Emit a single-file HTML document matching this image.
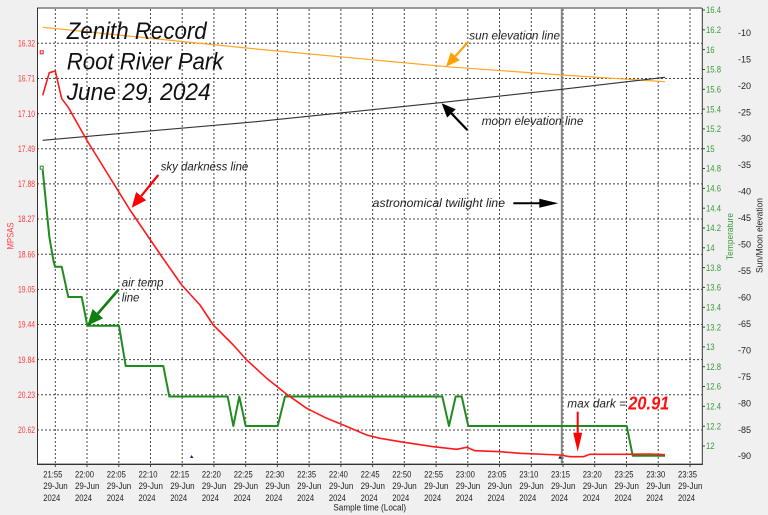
<!DOCTYPE html>
<html><head><meta charset="utf-8"><style>
html,body{margin:0;padding:0;background:#f0f0f0;}
svg{display:block;}
text{font-family:"Liberation Sans",sans-serif;}
</style></head><body>
<svg width="768" height="515" viewBox="0 0 768 515" xmlns="http://www.w3.org/2000/svg">
<rect x="0" y="0" width="768" height="515" fill="#f0f0f0"/>
<rect x="37" y="8" width="665" height="456" fill="#ffffff"/>
<g stroke="#444" stroke-width="1" stroke-dasharray="2,2" fill="none">
<line x1="37" y1="43.3" x2="702" y2="43.3"/>
<line x1="37" y1="78.45" x2="702" y2="78.45"/>
<line x1="37" y1="113.6" x2="702" y2="113.6"/>
<line x1="37" y1="148.75" x2="702" y2="148.75"/>
<line x1="37" y1="183.9" x2="702" y2="183.9"/>
<line x1="37" y1="219.05" x2="702" y2="219.05"/>
<line x1="37" y1="254.2" x2="702" y2="254.2"/>
<line x1="37" y1="289.35" x2="702" y2="289.35"/>
<line x1="37" y1="324.5" x2="702" y2="324.5"/>
<line x1="37" y1="359.65" x2="702" y2="359.65"/>
<line x1="37" y1="394.8" x2="702" y2="394.8"/>
<line x1="37" y1="429.95" x2="702" y2="429.95"/>
<line x1="55.3" y1="9" x2="55.3" y2="467"/>
<line x1="87.0" y1="9" x2="87.0" y2="467"/>
<line x1="118.8" y1="9" x2="118.8" y2="467"/>
<line x1="150.5" y1="9" x2="150.5" y2="467"/>
<line x1="182.2" y1="9" x2="182.2" y2="467"/>
<line x1="213.9" y1="9" x2="213.9" y2="467"/>
<line x1="245.7" y1="9" x2="245.7" y2="467"/>
<line x1="277.4" y1="9" x2="277.4" y2="467"/>
<line x1="309.1" y1="9" x2="309.1" y2="467"/>
<line x1="340.9" y1="9" x2="340.9" y2="467"/>
<line x1="372.6" y1="9" x2="372.6" y2="467"/>
<line x1="404.3" y1="9" x2="404.3" y2="467"/>
<line x1="436.1" y1="9" x2="436.1" y2="467"/>
<line x1="467.8" y1="9" x2="467.8" y2="467"/>
<line x1="499.5" y1="9" x2="499.5" y2="467"/>
<line x1="531.3" y1="9" x2="531.3" y2="467"/>
<line x1="563.0" y1="9" x2="563.0" y2="467"/>
<line x1="594.7" y1="9" x2="594.7" y2="467"/>
<line x1="626.5" y1="9" x2="626.5" y2="467"/>
<line x1="658.2" y1="9" x2="658.2" y2="467"/>
<line x1="690.0" y1="9" x2="690.0" y2="467"/>
</g>
<!-- frame -->
<line x1="37" y1="8" x2="702" y2="8" stroke="#999" stroke-width="2"/>
<line x1="37.5" y1="8" x2="37.5" y2="464.5" stroke="#333" stroke-width="1"/>
<line x1="702.3" y1="8" x2="702.3" y2="464.5" stroke="#333" stroke-width="1"/>
<line x1="37" y1="464.3" x2="702.8" y2="464.3" stroke="#333" stroke-width="1.3"/>
<!-- twilight line -->
<line x1="561.8" y1="8" x2="561.8" y2="464" stroke="#888" stroke-width="2"/>
<!-- temp ticks -->
<g stroke="#444" stroke-width="1">
<line x1="702" y1="10" x2="705" y2="10"/><line x1="702" y1="29.8" x2="705" y2="29.8"/><line x1="702" y1="49.6" x2="705" y2="49.6"/><line x1="702" y1="69.5" x2="705" y2="69.5"/><line x1="702" y1="89.3" x2="705" y2="89.3"/><line x1="702" y1="109.1" x2="705" y2="109.1"/><line x1="702" y1="128.9" x2="705" y2="128.9"/><line x1="702" y1="148.7" x2="705" y2="148.7"/><line x1="702" y1="168.5" x2="705" y2="168.5"/><line x1="702" y1="188.4" x2="705" y2="188.4"/><line x1="702" y1="208.2" x2="705" y2="208.2"/><line x1="702" y1="228" x2="705" y2="228"/><line x1="702" y1="247.8" x2="705" y2="247.8"/><line x1="702" y1="267.6" x2="705" y2="267.6"/><line x1="702" y1="287.4" x2="705" y2="287.4"/><line x1="702" y1="307.3" x2="705" y2="307.3"/><line x1="702" y1="327.1" x2="705" y2="327.1"/><line x1="702" y1="346.9" x2="705" y2="346.9"/><line x1="702" y1="366.7" x2="705" y2="366.7"/><line x1="702" y1="386.5" x2="705" y2="386.5"/><line x1="702" y1="406.3" x2="705" y2="406.3"/><line x1="702" y1="426.2" x2="705" y2="426.2"/><line x1="702" y1="446" x2="705" y2="446"/>
</g>
<!-- sun & moon -->
<polyline fill="none" stroke="#ffa526" stroke-width="1.2" points="42.7,27.3 256,49 446.7,66.7 561.7,75 665,81.7"/>
<polyline fill="none" stroke="#333" stroke-width="1.1" points="42.7,140.3 256,121.7 440,102.7 561.7,89.3 665,77.3"/>
<!-- temp -->
<polyline fill="none" stroke="#1f8c1f" stroke-width="2" stroke-linejoin="round" points="42.7,170 49.3,236.7 53.3,260 55,266.7 61.7,266.7 68.3,297 81.7,297 87.3,325.7 119,325.7 125.7,366 163.3,366 169.3,396.5 227.7,396.5 233.3,426 239.3,396.5 245.7,426 277.7,426 285,396.5 442.3,396.5 449,426 455.7,396.5 461.7,396.5 468.3,426 626.7,426 632.7,455.7 665,455.7"/>
<rect x="40.2" y="166.2" width="3" height="3" fill="none" stroke="#1f8c1f" stroke-width="1"/>
<!-- sky darkness -->
<polyline fill="none" stroke="#ff1a1a" stroke-width="1.6" stroke-linejoin="round" points="42.7,95.3 49.3,72.7 55.3,71 61.7,98.7 68.3,107.3 86.7,140 130,210 160,254 181.7,285 200,305 213.3,325 233.3,345 246.7,360 266.7,378.3 286.7,394.3 306.7,408.3 326.7,418.3 343.3,425 366.7,435 380,438.3 400,441.7 433.3,446.7 456.7,449.3 466.7,447.3 475,450.7 500,451.7 520,453.3 560,455 570,456.7 583.3,456.7 590,454.3 626.7,454.3 650,454 665,454.7"/>
<rect x="40.2" y="50.8" width="3" height="3" fill="none" stroke="#ff1a1a" stroke-width="1"/>
<polygon points="191.7,455 190,458 193.4,458" fill="#1a1a8c"/>
<polygon points="560,455.6 558.3,458.6 561.7,458.6" fill="#111"/>
<!-- arrows -->
<line x1="468.3" y1="41.7" x2="455.3" y2="56.3" stroke="#ffa000" stroke-width="2.2"/>
<polygon points="446,66.7 450.8,52.3 459.8,60.3" fill="#ffa000"/>
<line x1="467.3" y1="130" x2="451.4" y2="113.4" stroke="#000" stroke-width="2.2"/>
<polygon points="441.7,103.3 455.7,109.2 447.1,117.6" fill="#000"/>
<line x1="513.3" y1="203.3" x2="540" y2="203.3" stroke="#000" stroke-width="2"/>
<polygon points="558.3,203.3 539.3,198.8 539.3,207.8" fill="#000"/>
<line x1="158.3" y1="175" x2="141.2" y2="196.1" stroke="#ff0000" stroke-width="2.2"/>
<polygon points="131.7,207.7 136.1,192 146.2,200.2" fill="#ff0000"/>
<line x1="118.3" y1="290" x2="97.8" y2="313.6" stroke="#0f7f0f" stroke-width="2.6"/>
<polygon points="87.3,325.7 92.5,309 103.1,318.2" fill="#0f7f0f"/>
<line x1="577.7" y1="411.7" x2="577.7" y2="433.5" stroke="#ff0000" stroke-width="2"/>
<polygon points="577.7,451.7 573.2,432.7 582.2,432.7" fill="#ff0000"/>
<!-- annotation text -->
<g font-style="italic" fill="#111">
<text x="66.7" y="39" font-size="24" textLength="140" lengthAdjust="spacingAndGlyphs">Zenith Record</text>
<text x="66.7" y="69.3" font-size="24" textLength="156.7" lengthAdjust="spacingAndGlyphs">Root River Park</text>
<text x="66.7" y="100" font-size="24" textLength="144" lengthAdjust="spacingAndGlyphs">June 29, 2024</text>
<text x="469.3" y="39.5" font-size="12" fill="#222" textLength="90.7" lengthAdjust="spacingAndGlyphs">sun elevation line</text>
<text x="481.7" y="124.8" font-size="12" fill="#222" textLength="101.7" lengthAdjust="spacingAndGlyphs">moon elevation line</text>
<text x="372.7" y="207" font-size="12" fill="#222" textLength="132.3" lengthAdjust="spacingAndGlyphs">astronomical twilight line</text>
<text x="160.7" y="170.5" font-size="12" fill="#222" textLength="87.6" lengthAdjust="spacingAndGlyphs">sky darkness line</text>
<text x="121.7" y="286.5" font-size="12" fill="#222" textLength="41.7" lengthAdjust="spacingAndGlyphs">air temp</text>
<text x="121.7" y="301.5" font-size="12" fill="#222" textLength="17.7" lengthAdjust="spacingAndGlyphs">line</text>
<text x="567.3" y="407.5" font-size="12" fill="#222" textLength="58.7" lengthAdjust="spacingAndGlyphs">max dark =</text>
<text x="628.3" y="409.5" font-size="18" font-weight="bold" fill="#ff1010" textLength="41" lengthAdjust="spacingAndGlyphs">20.91</text>
</g>
<!-- left labels -->
<g font-size="9" fill="#ff3b3b" text-anchor="end">
<text x="35" y="46.5" textLength="17" lengthAdjust="spacingAndGlyphs">16.32</text>
<text x="35" y="81.6" textLength="17" lengthAdjust="spacingAndGlyphs">16.71</text>
<text x="35" y="116.8" textLength="17" lengthAdjust="spacingAndGlyphs">17.10</text>
<text x="35" y="151.9" textLength="17" lengthAdjust="spacingAndGlyphs">17.49</text>
<text x="35" y="187.1" textLength="17" lengthAdjust="spacingAndGlyphs">17.88</text>
<text x="35" y="222.2" textLength="17" lengthAdjust="spacingAndGlyphs">18.27</text>
<text x="35" y="257.4" textLength="17" lengthAdjust="spacingAndGlyphs">18.66</text>
<text x="35" y="292.5" textLength="17" lengthAdjust="spacingAndGlyphs">19.05</text>
<text x="35" y="327.7" textLength="17" lengthAdjust="spacingAndGlyphs">19.44</text>
<text x="35" y="362.8" textLength="17" lengthAdjust="spacingAndGlyphs">19.84</text>
<text x="35" y="398" textLength="17" lengthAdjust="spacingAndGlyphs">20.23</text>
<text x="35" y="433.1" textLength="17" lengthAdjust="spacingAndGlyphs">20.62</text>
</g>
<text transform="translate(13.5,236) rotate(-90)" font-size="9" fill="#ff3b3b" text-anchor="middle" textLength="27" lengthAdjust="spacingAndGlyphs">MPSAS</text>
<!-- temperature labels -->
<g font-size="9" fill="#3a9a3a">
<text x="706" y="13.2" textLength="15" lengthAdjust="spacingAndGlyphs">16.4</text>
<text x="706" y="33" textLength="15" lengthAdjust="spacingAndGlyphs">16.2</text>
<text x="706" y="52.8" textLength="8.6" lengthAdjust="spacingAndGlyphs">16</text>
<text x="706" y="72.7" textLength="15" lengthAdjust="spacingAndGlyphs">15.8</text>
<text x="706" y="92.5" textLength="15" lengthAdjust="spacingAndGlyphs">15.6</text>
<text x="706" y="112.3" textLength="15" lengthAdjust="spacingAndGlyphs">15.4</text>
<text x="706" y="132.1" textLength="15" lengthAdjust="spacingAndGlyphs">15.2</text>
<text x="706" y="151.9" textLength="8.6" lengthAdjust="spacingAndGlyphs">15</text>
<text x="706" y="171.7" textLength="15" lengthAdjust="spacingAndGlyphs">14.8</text>
<text x="706" y="191.6" textLength="15" lengthAdjust="spacingAndGlyphs">14.6</text>
<text x="706" y="211.4" textLength="15" lengthAdjust="spacingAndGlyphs">14.4</text>
<text x="706" y="231.2" textLength="15" lengthAdjust="spacingAndGlyphs">14.2</text>
<text x="706" y="251" textLength="8.6" lengthAdjust="spacingAndGlyphs">14</text>
<text x="706" y="270.8" textLength="15" lengthAdjust="spacingAndGlyphs">13.8</text>
<text x="706" y="290.6" textLength="15" lengthAdjust="spacingAndGlyphs">13.6</text>
<text x="706" y="310.5" textLength="15" lengthAdjust="spacingAndGlyphs">13.4</text>
<text x="706" y="330.3" textLength="15" lengthAdjust="spacingAndGlyphs">13.2</text>
<text x="706" y="350.1" textLength="8.6" lengthAdjust="spacingAndGlyphs">13</text>
<text x="706" y="369.9" textLength="15" lengthAdjust="spacingAndGlyphs">12.8</text>
<text x="706" y="389.7" textLength="15" lengthAdjust="spacingAndGlyphs">12.6</text>
<text x="706" y="409.5" textLength="15" lengthAdjust="spacingAndGlyphs">12.4</text>
<text x="706" y="429.4" textLength="15" lengthAdjust="spacingAndGlyphs">12.2</text>
<text x="706" y="449.2" textLength="8.6" lengthAdjust="spacingAndGlyphs">12</text>
</g>
<text transform="translate(732.8,236.5) rotate(-90)" font-size="9" fill="#3a9a3a" text-anchor="middle" textLength="47" lengthAdjust="spacingAndGlyphs">Temperature</text>
<!-- sun/moon labels -->
<g font-size="9" fill="#222">
<text x="738" y="35.9" textLength="13" lengthAdjust="spacingAndGlyphs">-10</text>
<text x="738" y="62.4" textLength="13" lengthAdjust="spacingAndGlyphs">-15</text>
<text x="738" y="88.8" textLength="13" lengthAdjust="spacingAndGlyphs">-20</text>
<text x="738" y="115.3" textLength="13" lengthAdjust="spacingAndGlyphs">-25</text>
<text x="738" y="141.7" textLength="13" lengthAdjust="spacingAndGlyphs">-30</text>
<text x="738" y="168.2" textLength="13" lengthAdjust="spacingAndGlyphs">-35</text>
<text x="738" y="194.7" textLength="13" lengthAdjust="spacingAndGlyphs">-40</text>
<text x="738" y="221.1" textLength="13" lengthAdjust="spacingAndGlyphs">-45</text>
<text x="738" y="247.6" textLength="13" lengthAdjust="spacingAndGlyphs">-50</text>
<text x="738" y="274.0" textLength="13" lengthAdjust="spacingAndGlyphs">-55</text>
<text x="738" y="300.5" textLength="13" lengthAdjust="spacingAndGlyphs">-60</text>
<text x="738" y="327.0" textLength="13" lengthAdjust="spacingAndGlyphs">-65</text>
<text x="738" y="353.4" textLength="13" lengthAdjust="spacingAndGlyphs">-70</text>
<text x="738" y="379.9" textLength="13" lengthAdjust="spacingAndGlyphs">-75</text>
<text x="738" y="406.3" textLength="13" lengthAdjust="spacingAndGlyphs">-80</text>
<text x="738" y="432.8" textLength="13" lengthAdjust="spacingAndGlyphs">-85</text>
<text x="738" y="459.2" textLength="13" lengthAdjust="spacingAndGlyphs">-90</text>
</g>
<text transform="translate(762.5,235.5) rotate(-90)" font-size="9" fill="#222" text-anchor="middle" textLength="75" lengthAdjust="spacingAndGlyphs">Sun/Moon elevation</text>
<!-- bottom labels -->
<g font-size="9" fill="#222">
<text x="43.3" y="477.5" textLength="19" lengthAdjust="spacingAndGlyphs">21:55</text><text x="43.3" y="489.2" textLength="24.4" lengthAdjust="spacingAndGlyphs">29-Jun</text><text x="43.3" y="500.9" textLength="17" lengthAdjust="spacingAndGlyphs">2024</text>
<text x="75.0" y="477.5" textLength="19" lengthAdjust="spacingAndGlyphs">22:00</text><text x="75.0" y="489.2" textLength="24.4" lengthAdjust="spacingAndGlyphs">29-Jun</text><text x="75.0" y="500.9" textLength="17" lengthAdjust="spacingAndGlyphs">2024</text>
<text x="106.8" y="477.5" textLength="19" lengthAdjust="spacingAndGlyphs">22:05</text><text x="106.8" y="489.2" textLength="24.4" lengthAdjust="spacingAndGlyphs">29-Jun</text><text x="106.8" y="500.9" textLength="17" lengthAdjust="spacingAndGlyphs">2024</text>
<text x="138.5" y="477.5" textLength="19" lengthAdjust="spacingAndGlyphs">22:10</text><text x="138.5" y="489.2" textLength="24.4" lengthAdjust="spacingAndGlyphs">29-Jun</text><text x="138.5" y="500.9" textLength="17" lengthAdjust="spacingAndGlyphs">2024</text>
<text x="170.2" y="477.5" textLength="19" lengthAdjust="spacingAndGlyphs">22:15</text><text x="170.2" y="489.2" textLength="24.4" lengthAdjust="spacingAndGlyphs">29-Jun</text><text x="170.2" y="500.9" textLength="17" lengthAdjust="spacingAndGlyphs">2024</text>
<text x="201.9" y="477.5" textLength="19" lengthAdjust="spacingAndGlyphs">22:20</text><text x="201.9" y="489.2" textLength="24.4" lengthAdjust="spacingAndGlyphs">29-Jun</text><text x="201.9" y="500.9" textLength="17" lengthAdjust="spacingAndGlyphs">2024</text>
<text x="233.7" y="477.5" textLength="19" lengthAdjust="spacingAndGlyphs">22:25</text><text x="233.7" y="489.2" textLength="24.4" lengthAdjust="spacingAndGlyphs">29-Jun</text><text x="233.7" y="500.9" textLength="17" lengthAdjust="spacingAndGlyphs">2024</text>
<text x="265.4" y="477.5" textLength="19" lengthAdjust="spacingAndGlyphs">22:30</text><text x="265.4" y="489.2" textLength="24.4" lengthAdjust="spacingAndGlyphs">29-Jun</text><text x="265.4" y="500.9" textLength="17" lengthAdjust="spacingAndGlyphs">2024</text>
<text x="297.1" y="477.5" textLength="19" lengthAdjust="spacingAndGlyphs">22:35</text><text x="297.1" y="489.2" textLength="24.4" lengthAdjust="spacingAndGlyphs">29-Jun</text><text x="297.1" y="500.9" textLength="17" lengthAdjust="spacingAndGlyphs">2024</text>
<text x="328.9" y="477.5" textLength="19" lengthAdjust="spacingAndGlyphs">22:40</text><text x="328.9" y="489.2" textLength="24.4" lengthAdjust="spacingAndGlyphs">29-Jun</text><text x="328.9" y="500.9" textLength="17" lengthAdjust="spacingAndGlyphs">2024</text>
<text x="360.6" y="477.5" textLength="19" lengthAdjust="spacingAndGlyphs">22:45</text><text x="360.6" y="489.2" textLength="24.4" lengthAdjust="spacingAndGlyphs">29-Jun</text><text x="360.6" y="500.9" textLength="17" lengthAdjust="spacingAndGlyphs">2024</text>
<text x="392.3" y="477.5" textLength="19" lengthAdjust="spacingAndGlyphs">22:50</text><text x="392.3" y="489.2" textLength="24.4" lengthAdjust="spacingAndGlyphs">29-Jun</text><text x="392.3" y="500.9" textLength="17" lengthAdjust="spacingAndGlyphs">2024</text>
<text x="424.1" y="477.5" textLength="19" lengthAdjust="spacingAndGlyphs">22:55</text><text x="424.1" y="489.2" textLength="24.4" lengthAdjust="spacingAndGlyphs">29-Jun</text><text x="424.1" y="500.9" textLength="17" lengthAdjust="spacingAndGlyphs">2024</text>
<text x="455.8" y="477.5" textLength="19" lengthAdjust="spacingAndGlyphs">23:00</text><text x="455.8" y="489.2" textLength="24.4" lengthAdjust="spacingAndGlyphs">29-Jun</text><text x="455.8" y="500.9" textLength="17" lengthAdjust="spacingAndGlyphs">2024</text>
<text x="487.5" y="477.5" textLength="19" lengthAdjust="spacingAndGlyphs">23:05</text><text x="487.5" y="489.2" textLength="24.4" lengthAdjust="spacingAndGlyphs">29-Jun</text><text x="487.5" y="500.9" textLength="17" lengthAdjust="spacingAndGlyphs">2024</text>
<text x="519.3" y="477.5" textLength="19" lengthAdjust="spacingAndGlyphs">23:10</text><text x="519.3" y="489.2" textLength="24.4" lengthAdjust="spacingAndGlyphs">29-Jun</text><text x="519.3" y="500.9" textLength="17" lengthAdjust="spacingAndGlyphs">2024</text>
<text x="551.0" y="477.5" textLength="19" lengthAdjust="spacingAndGlyphs">23:15</text><text x="551.0" y="489.2" textLength="24.4" lengthAdjust="spacingAndGlyphs">29-Jun</text><text x="551.0" y="500.9" textLength="17" lengthAdjust="spacingAndGlyphs">2024</text>
<text x="582.7" y="477.5" textLength="19" lengthAdjust="spacingAndGlyphs">23:20</text><text x="582.7" y="489.2" textLength="24.4" lengthAdjust="spacingAndGlyphs">29-Jun</text><text x="582.7" y="500.9" textLength="17" lengthAdjust="spacingAndGlyphs">2024</text>
<text x="614.5" y="477.5" textLength="19" lengthAdjust="spacingAndGlyphs">23:25</text><text x="614.5" y="489.2" textLength="24.4" lengthAdjust="spacingAndGlyphs">29-Jun</text><text x="614.5" y="500.9" textLength="17" lengthAdjust="spacingAndGlyphs">2024</text>
<text x="646.2" y="477.5" textLength="19" lengthAdjust="spacingAndGlyphs">23:30</text><text x="646.2" y="489.2" textLength="24.4" lengthAdjust="spacingAndGlyphs">29-Jun</text><text x="646.2" y="500.9" textLength="17" lengthAdjust="spacingAndGlyphs">2024</text>
<text x="678.0" y="477.5" textLength="19" lengthAdjust="spacingAndGlyphs">23:35</text><text x="678.0" y="489.2" textLength="24.4" lengthAdjust="spacingAndGlyphs">29-Jun</text><text x="678.0" y="500.9" textLength="17" lengthAdjust="spacingAndGlyphs">2024</text>
</g>
<text x="369.7" y="510.5" font-size="9" fill="#222" text-anchor="middle" textLength="72.7" lengthAdjust="spacingAndGlyphs">Sample time (Local)</text>
</svg>
</body></html>
